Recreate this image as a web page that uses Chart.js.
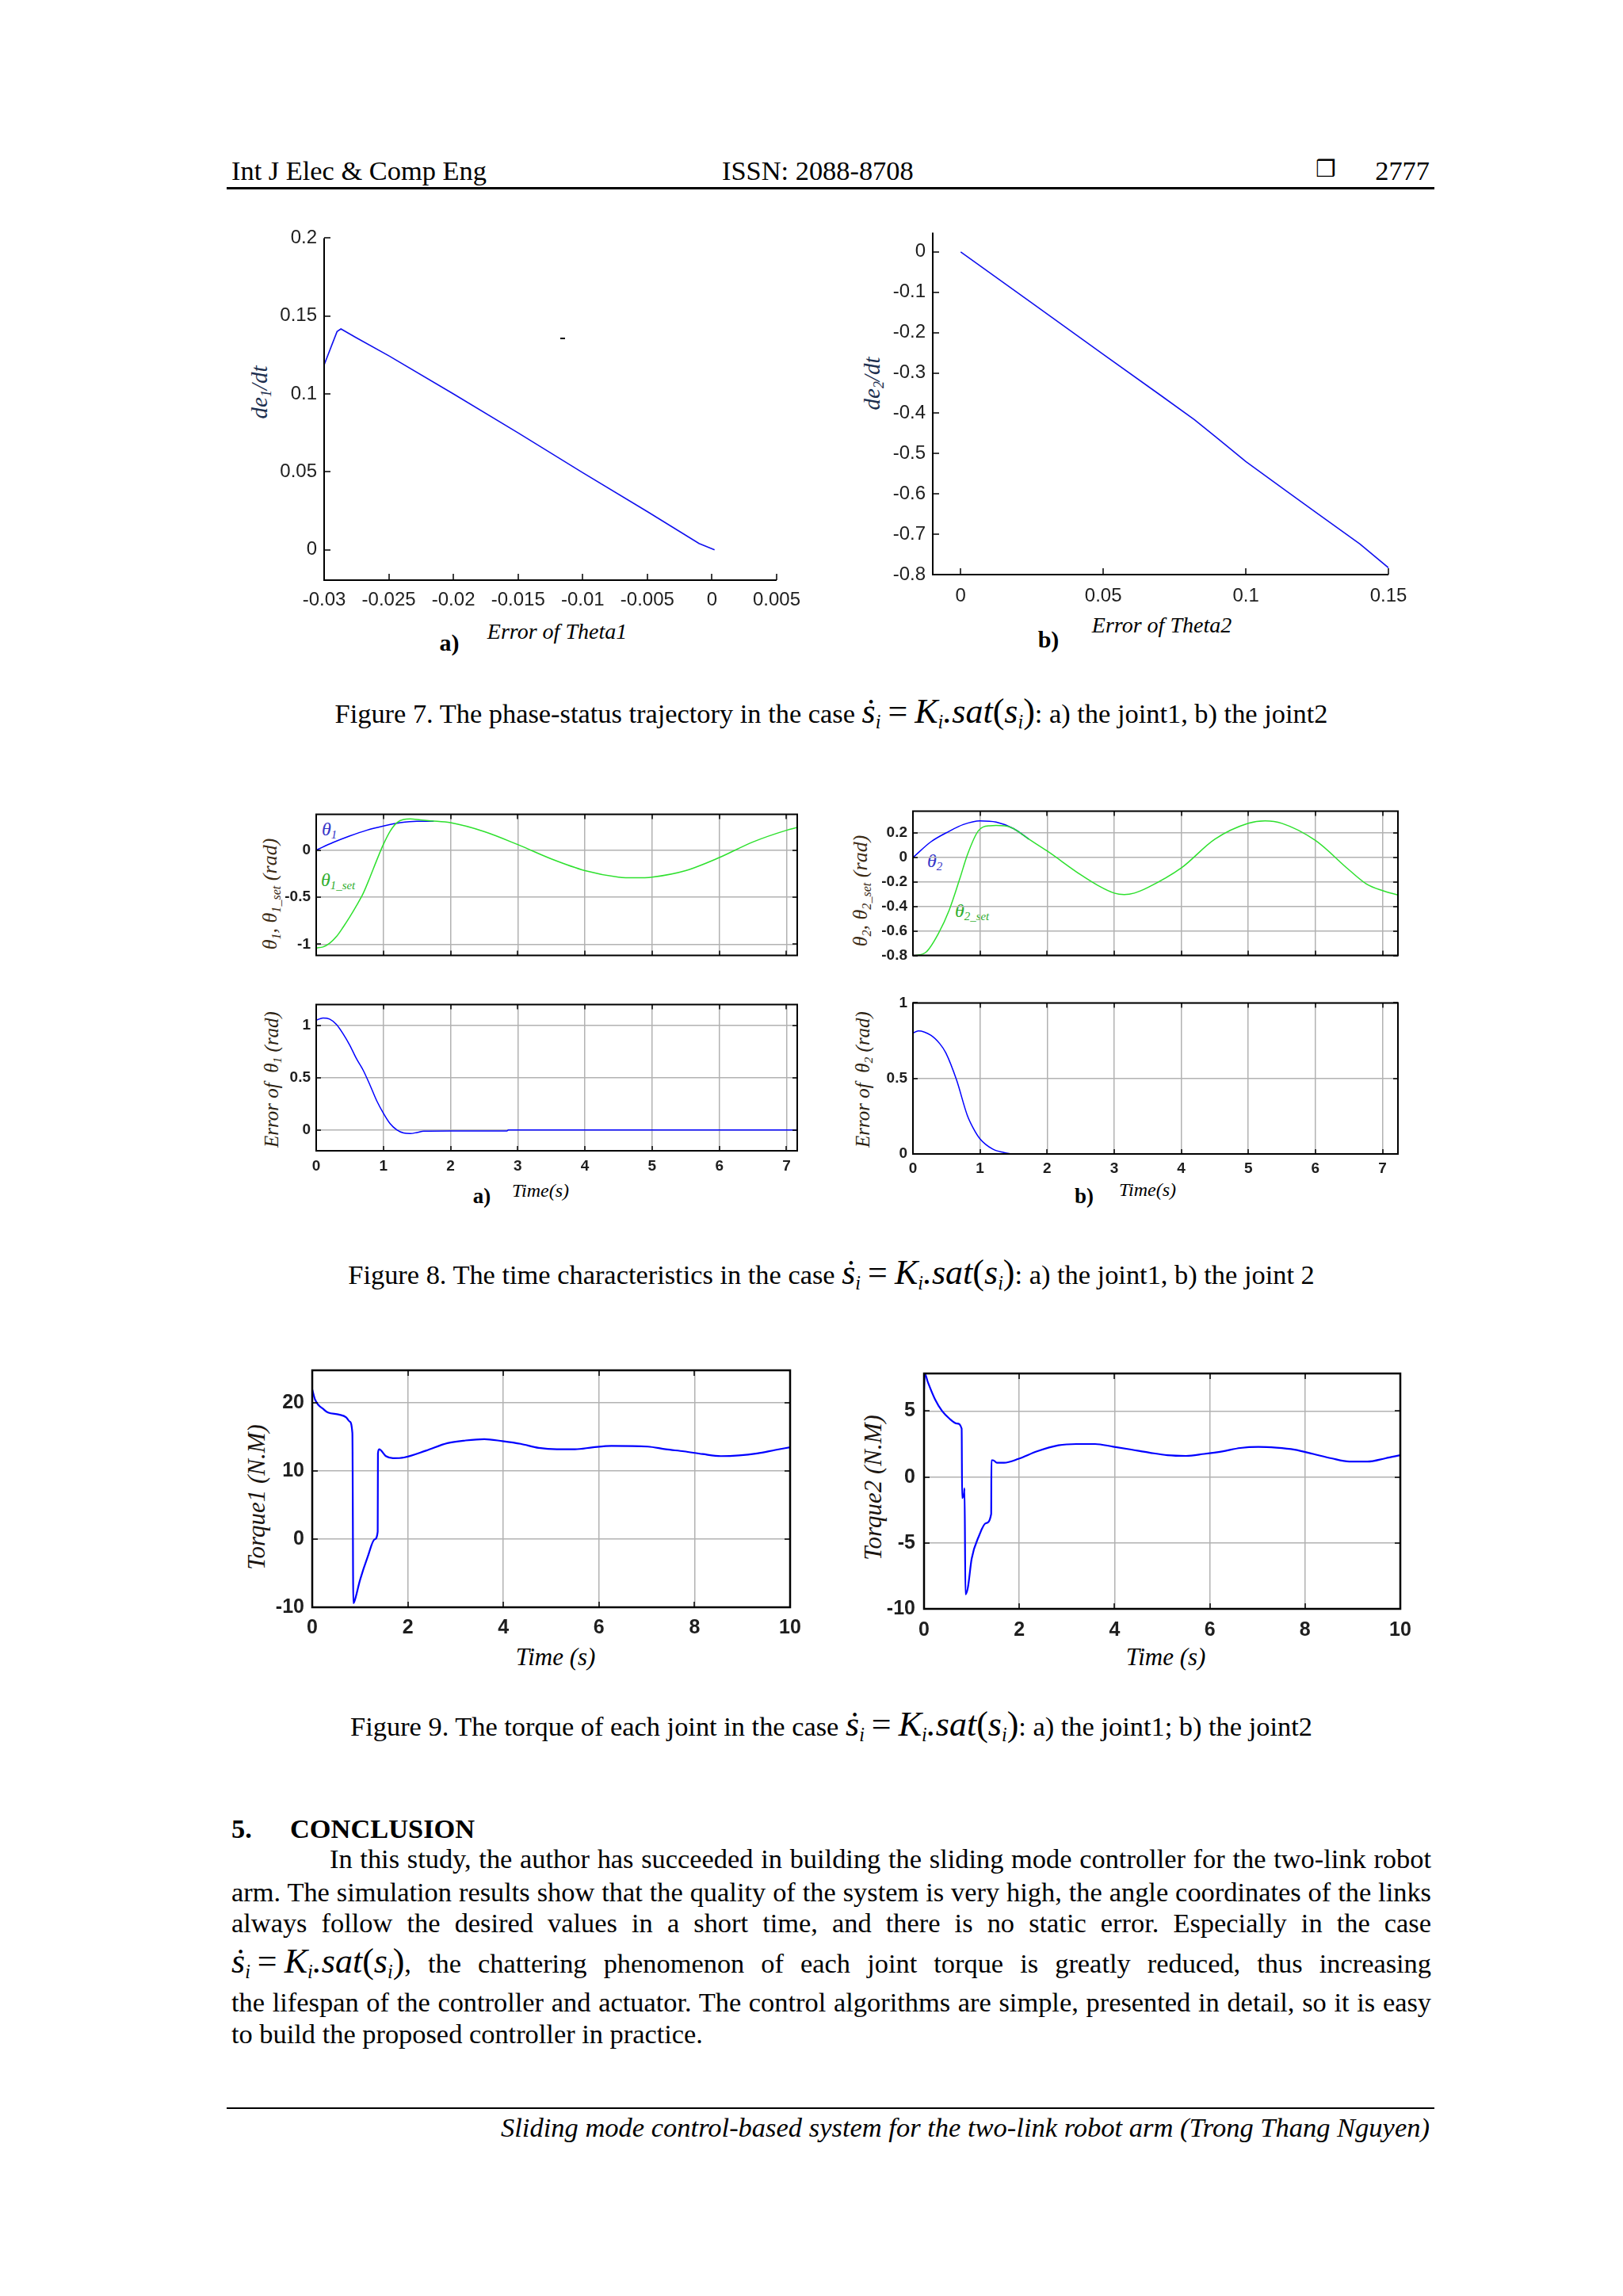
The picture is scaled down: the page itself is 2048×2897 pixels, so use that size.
<!DOCTYPE html>
<html>
<head>
<meta charset="utf-8">
<script src="https://cdn.jsdelivr.net/npm/chart.js@4.4.1/dist/chart.umd.min.js"></script>
<style>
  body { margin: 0; width: 2048px; height: 2897px; background: #fff; position: relative; overflow: hidden;
         font-family: "Liberation Serif", "Times New Roman", serif; color: #000; }
  .t { position: absolute; white-space: nowrap; line-height: 1; font-size: 34.4px; }
  .c { transform: translate(-50%, -50%); }
  .rot { transform: translate(-50%, -50%) rotate(-90deg); }
  .it { font-style: italic; }
  .plot { position: absolute; }
  .rule { position: absolute; background: #000; }
  sub { font-size: 0.62em; vertical-align: -0.28em; line-height: 0; }
  .m { font-size: 44px; font-style: italic; }
  .m sub { font-size: 0.55em; }
  .eq { font-style: normal; margin: 0 9px; }
</style>
</head>
<body>

<!-- en-tête -->
<div class="t" style="left:292px; top:198px;">Int J Elec &amp; Comp Eng</div>
<div class="t" style="left:911px; top:198px;">ISSN: 2088-8708</div>
<div class="t" style="left:1660px; top:199px; font-family:'DejaVu Sans'; font-weight:bold; font-size:29px;">❒</div>
<div class="t" style="right:244px; top:198px;">2777</div>
<div class="rule" style="left:286px; top:236px; width:1524px; height:3px;"></div>

<!-- Figure 7 -->
<div class="t it rot" style="left:327px; top:495px; font-size:29px; color:#1d2f4f;">de<sub>1</sub>/dt</div>
<div class="t it c" style="left:703px; top:797px; font-size:28px;">Error of Theta1</div>
<div class="t c" style="left:567px; top:811px; font-size:30px; font-weight:bold;">a)</div>
<div class="rule" style="left:707px; top:426px; width:6px; height:2px;"></div>
<div class="t it rot" style="left:1100px; top:484px; font-size:29px; color:#1d2f4f;">de<sub>2</sub>/dt</div>
<div class="t it c" style="left:1466px; top:789px; font-size:28px;">Error of Theta2</div>
<div class="t c" style="left:1323px; top:807px; font-size:30px; font-weight:bold;">b)</div>
<div class="t c" style="left:1049px; top:898px;">Figure 7. The phase-status trajectory in the case <span class="m">ṡ<sub>i</sub><span class="eq">=</span>K<sub>i</sub>.sat<span style="font-style:normal">(</span>s<sub>i</sub><span style="font-style:normal">)</span></span>: a) the joint1, b) the joint2</div>

<!-- Figure 8 -->
<div class="t it" style="left:406px; top:1034px; font-size:24px; color:#3535c8;">θ<sub>1</sub></div>
<div class="t it" style="left:405px; top:1098px; font-size:24px; color:#2fae2f;">θ<sub>1_set</sub></div>
<div class="t it rot" style="left:341px; top:1128px; font-size:26px; color:#3b2a14;">θ<sub>1</sub>, θ<sub>1_set</sub> (rad)</div>
<div class="t it rot" style="left:342px; top:1362px; font-size:25px; color:#2a1e10;">Error of&nbsp; θ<sub>1</sub> (rad)</div>
<div class="t it c" style="left:682px; top:1502px; font-size:24px;">Time(s)</div>
<div class="t c" style="left:608px; top:1509px; font-size:27px; font-weight:bold;">a)</div>
<div class="t it" style="left:1170px; top:1074px; font-size:24px; color:#3535c8;">θ<sub>2</sub></div>
<div class="t it" style="left:1205px; top:1137px; font-size:24px; color:#2fae2f;">θ<sub>2_set</sub></div>
<div class="t it rot" style="left:1086px; top:1124px; font-size:26px; color:#3b2a14;">θ<sub>2</sub>, θ<sub>2_set</sub> (rad)</div>
<div class="t it rot" style="left:1088px; top:1362px; font-size:25px; color:#2a1e10;">Error of&nbsp; θ<sub>2</sub> (rad)</div>
<div class="t it c" style="left:1448px; top:1501px; font-size:24px;">Time(s)</div>
<div class="t c" style="left:1368px; top:1509px; font-size:27px; font-weight:bold;">b)</div>
<div class="t c" style="left:1049px; top:1606px;">Figure 8. The time characteristics in the case <span class="m">ṡ<sub>i</sub><span class="eq">=</span>K<sub>i</sub>.sat<span style="font-style:normal">(</span>s<sub>i</sub><span style="font-style:normal">)</span></span>: a) the joint1, b) the joint 2</div>

<!-- Figure 9 -->
<div class="t it rot" style="left:323px; top:1889px; font-size:31px; color:#1a1410;">Torque1 (N.M)</div>
<div class="t it c" style="left:701px; top:2090px; font-size:31px;">Time (s)</div>
<div class="t it rot" style="left:1101px; top:1877px; font-size:31px; color:#1a1410;">Torque2 (N.M)</div>
<div class="t it c" style="left:1471px; top:2090px; font-size:31px;">Time (s)</div>
<div class="t c" style="left:1049px; top:2176px;">Figure 9. The torque of each joint in the case <span class="m">ṡ<sub>i</sub><span class="eq">=</span>K<sub>i</sub>.sat<span style="font-style:normal">(</span>s<sub>i</sub><span style="font-style:normal">)</span></span>: a) the joint1; b) the joint2</div>

<!-- Conclusion -->
<div class="t" style="left:292px; top:2290px; font-weight:bold;">5.</div>
<div class="t" style="left:366px; top:2290px; font-weight:bold;">CONCLUSION</div>
<div class="t just" data-w="1390" style="left:416px; top:2328px;">In this study, the author has succeeded in building the sliding mode controller for the two-link robot</div>
<div class="t just" data-w="1514" style="left:292px; top:2370px;">arm. The simulation results show that the quality of the system is very high, the angle coordinates of the links</div>
<div class="t just" data-w="1514" style="left:292px; top:2409px;">always follow the desired values in a short time, and there is no static error. Especially in the case</div>
<div class="t just" data-w="1514" style="left:292px; top:2453px;"><span class="m">ṡ<sub>i</sub><span class="eq">=</span>K<sub>i</sub>.sat<span style="font-style:normal">(</span>s<sub>i</sub><span style="font-style:normal">)</span></span>, the chattering phenomenon of each joint torque is greatly reduced, thus increasing</div>
<div class="t just" data-w="1514" style="left:292px; top:2509px;">the lifespan of the controller and actuator. The control algorithms are simple, presented in detail, so it is easy</div>
<div class="t" style="left:292px; top:2549px;">to build the proposed controller in practice.</div>

<!-- pied de page -->
<div class="rule" style="left:286px; top:2659px; width:1524px; height:2px;"></div>
<div class="t it" style="right:244px; top:2667px; font-size:34.5px;">Sliding mode control-based system for the two-link robot arm (Trong Thang Nguyen)</div>

<script>
// ---- Figure 7 a) : trajectoire de phase joint 1
const err1 = [-0.03, -0.0294, -0.029, -0.0287, -0.0275, -0.025, -0.02, -0.015, -0.01, -0.005, -0.001, 0.0002];
const derr1 = [0.1186, 0.1315, 0.14, 0.1417, 0.136, 0.1245, 0.1, 0.075, 0.0495, 0.0245, 0.004, 0];
const fig7aXTicks = [-0.03, -0.025, -0.02, -0.015, -0.01, -0.005, 0, 0.005];
const fig7aXLabels = ["-0.03", "-0.025", "-0.02", "-0.015", "-0.01", "-0.005", "0", "0.005"];
const fig7aYTicks = [0, 0.05, 0.1, 0.15, 0.2];
const fig7aYLabels = ["0", "0.05", "0.1", "0.15", "0.2"];

// ---- Figure 7 b) : trajectoire de phase joint 2
const err2 = [0, 0.025, 0.05, 0.07, 0.082, 0.09, 0.1, 0.115, 0.125, 0.14, 0.15];
const derr2 = [0, -0.127, -0.254, -0.355, -0.416, -0.462, -0.52, -0.597, -0.648, -0.724, -0.783];
const fig7bXTicks = [0, 0.05, 0.1, 0.15];
const fig7bXLabels = ["0", "0.05", "0.1", "0.15"];
const fig7bYTicks = [-0.8, -0.7, -0.6, -0.5, -0.4, -0.3, -0.2, -0.1, 0];
const fig7bYLabels = ["-0.8", "-0.7", "-0.6", "-0.5", "-0.4", "-0.3", "-0.2", "-0.1", "0"];

// ---- Figure 8 a) : joint 1
const tTheta1 = [0, 0.25, 0.5, 0.75, 1.0, 1.25, 1.5, 1.75];
const theta1 = [0, 0.08, 0.15, 0.21, 0.255, 0.29, 0.305, 0.305];
const tTheta1Set = [0, 0.1, 0.2, 0.3, 0.4, 0.5, 0.6, 0.7, 0.8, 0.9, 1.0, 1.1, 1.2, 1.3, 1.4, 1.55, 1.7, 2.0, 2.5, 3.0, 3.5, 4.0, 4.5, 4.75, 5.0, 5.5, 6.0, 6.5, 7.0, 7.16];
const theta1Set = [-1.04, -1.03, -0.99, -0.92, -0.82, -0.71, -0.59, -0.46, -0.29, -0.11, 0.06, 0.2, 0.29, 0.325, 0.33, 0.32, 0.31, 0.29, 0.196, 0.058, -0.094, -0.218, -0.287, -0.295, -0.287, -0.218, -0.08, 0.086, 0.21, 0.24];
const tErr1 = [0, 0.1, 0.2, 0.3, 0.4, 0.5, 0.6, 0.7, 0.8, 0.9, 1.0, 1.1, 1.2, 1.3, 1.4, 1.5, 1.6, 2.0, 2.5, 2.84, 2.86, 4.0, 5.0, 6.0, 7.16];
const errTheta1 = [1.05, 1.07, 1.06, 1.01, 0.92, 0.81, 0.68, 0.57, 0.43, 0.28, 0.16, 0.06, 0.0, -0.03, -0.035, -0.025, -0.012, -0.01, -0.01, -0.01, 0, 0, 0, 0, 0];

// ---- Figure 8 b) : joint 2
const tTheta2 = [0, 0.27, 0.54, 0.75, 1.0, 1.24, 1.5, 1.73];
const theta2 = [0, 0.13, 0.215, 0.27, 0.3, 0.29, 0.237, 0.15];
const tTheta2Set = [0, 0.2, 0.38, 0.54, 0.7, 0.81, 0.97, 1.14, 1.24, 1.46, 1.73, 2.0, 2.5, 2.75, 3.0, 3.15, 3.3, 3.5, 4.0, 4.5, 5.0, 5.25, 5.5, 6.0, 6.5, 6.76, 7.0, 7.23];
const theta2Set = [-0.805, -0.77, -0.62, -0.43, -0.17, 0.02, 0.215, 0.26, 0.262, 0.247, 0.15, 0.054, -0.14, -0.225, -0.29, -0.302, -0.29, -0.245, -0.085, 0.15, 0.28, 0.3, 0.28, 0.14, -0.1, -0.215, -0.27, -0.305];
const tErr2 = [0, 0.08, 0.27, 0.4, 0.49, 0.65, 0.81, 0.9, 1.0, 1.19, 1.35, 1.49, 2.0, 4.5, 4.52, 4.9, 4.92, 6.0, 6.02, 6.4, 6.42, 7.23];
const errTheta2 = [0.8, 0.815, 0.785, 0.73, 0.67, 0.49, 0.256, 0.17, 0.1, 0.032, 0.01, 0, 0, 0, -0.004, -0.004, 0, 0, -0.004, -0.004, 0, 0];

const timeTicks = [0, 1, 2, 3, 4, 5, 6, 7];
const timeLabels = ["0", "1", "2", "3", "4", "5", "6", "7"];
const th1YTicks = [-1, -0.5, 0];
const th1YLabels = ["-1", "-0.5", "0"];
const e1YTicks = [0, 0.5, 1];
const e1YLabels = ["0", "0.5", "1"];
const th2YTicks = [-0.8, -0.6, -0.4, -0.2, 0, 0.2];
const th2YLabels = ["-0.8", "-0.6", "-0.4", "-0.2", "0", "0.2"];
const e2YTicks = [0, 0.5, 1];
const e2YLabels = ["0", "0.5", "1"];

// ---- Figure 9 : couples
const tTorque1 = [0, 0.06, 0.25, 0.33, 0.56, 0.71, 0.78, 0.84, 0.86, 0.88, 1.0, 1.16, 1.31, 1.37, 1.375, 1.4, 1.54, 1.69, 1.92, 2.38, 2.83, 3.21, 3.6, 3.98, 4.36, 4.74, 5.12, 5.5, 5.88, 6.26, 7.02, 7.4, 7.78, 8.17, 8.55, 8.93, 9.31, 9.69, 10];
const torque1 = [22.0, 20.5, 19.0, 18.6, 18.3, 17.9, 17.3, 15.6, -9.4, -9.2, -6.0, -2.6, 0, 1.1, 12.6, 13.2, 12.2, 11.9, 12.0, 13.0, 14.1, 14.5, 14.7, 14.4, 14.0, 13.4, 13.2, 13.2, 13.5, 13.7, 13.6, 13.2, 12.9, 12.5, 12.2, 12.3, 12.6, 13.1, 13.5];
const tTorque2 = [0, 0.015, 0.08, 0.23, 0.38, 0.53, 0.69, 0.79, 0.8, 0.84, 0.85, 0.87, 0.92, 1.0, 1.15, 1.3, 1.41, 1.415, 1.45, 1.53, 1.68, 1.98, 2.37, 2.82, 3.2, 3.59, 3.97, 4.35, 4.73, 5.11, 5.5, 5.88, 6.26, 6.64, 7.02, 7.4, 7.78, 8.17, 8.55, 8.93, 9.31, 9.69, 10];
const torque2 = [6.65, 7.85, 7.2, 5.9, 5.0, 4.44, 4.06, 3.67, -1.6, -1.2, -0.85, -8.9, -8.4, -6.2, -4.5, -3.5, -2.8, 1.27, 1.27, 1.08, 1.08, 1.37, 1.94, 2.4, 2.5, 2.5, 2.3, 2.08, 1.85, 1.65, 1.6, 1.75, 1.94, 2.2, 2.28, 2.22, 2.07, 1.75, 1.42, 1.17, 1.17, 1.42, 1.65];
const torqueXTicks = [0, 2, 4, 6, 8, 10];
const torqueXLabels = ["0", "2", "4", "6", "8", "10"];
const torque1YTicks = [-10, 0, 10, 20];
const torque1YLabels = ["-10", "0", "10", "20"];
const torque2YTicks = [-10, -5, 0, 5];
const torque2YLabels = ["-10", "-5", "0", "5"];

// couleurs
const BLUE = "#0000ff";
const GREEN = "#2ee02e";
const GRID = "#b2b2b2";

function zip(xs, ys) {
    return xs.map((x, i) => ({ x: x, y: ys[i] }));
}

// cadre + graduations vers l'intérieur (style MATLAB)
const framePlugin = {
    id: "frame",
    afterDraw(chart, args, opts) {
        const { ctx, chartArea: a, scales } = chart;
        ctx.save();
        ctx.strokeStyle = opts.color || "#000";
        ctx.lineWidth = opts.width || 2;
        ctx.beginPath();
        if (opts.box) {
            ctx.rect(a.left, a.top, a.right - a.left, a.bottom - a.top);
        } else {
            ctx.moveTo(a.left, a.top);
            ctx.lineTo(a.left, a.bottom);
            ctx.lineTo(a.right, a.bottom);
        }
        ctx.stroke();
        const len = opts.tick || 0;
        if (len) {
            ctx.lineWidth = opts.tickWidth || 1.5;
            ctx.beginPath();
            scales.x.ticks.forEach(t => {
                const px = Math.round(scales.x.getPixelForValue(t.value));
                ctx.moveTo(px, a.bottom); ctx.lineTo(px, a.bottom - len);
                if (opts.box) { ctx.moveTo(px, a.top); ctx.lineTo(px, a.top + len); }
            });
            scales.y.ticks.forEach(t => {
                const py = Math.round(scales.y.getPixelForValue(t.value));
                ctx.moveTo(a.left, py); ctx.lineTo(a.left + len, py);
                if (opts.box) { ctx.moveTo(a.right, py); ctx.lineTo(a.right - len, py); }
            });
            ctx.stroke();
        }
        ctx.restore();
    }
};

function axis(a, size, horiz, font, grid) {
    return {
        type: "linear",
        position: horiz ? "bottom" : "left",
        min: a.min,
        max: a.max,
        afterFit: s => { if (horiz) s.height = size; else s.width = size; },
        afterBuildTicks: s => { s.ticks = a.ticks.map(v => ({ value: v })); },
        ticks: {
            display: !!a.labels,
            autoSkip: false,
            maxRotation: 0,
            padding: a.padding,
            font: font,
            color: "#1e1e1e",
            callback: (v, i) => (a.labels ? a.labels[i] : "")
        },
        grid: { display: !!grid, color: grid || "#000", lineWidth: 1.5, drawTicks: false },
        border: { display: false }
    };
}

// un graphique placé exactement sur la zone de tracé (box)
function plot(o) {
    const pad = Object.assign({ yw: 80, xh: 50, tp: 16, rp: 40 }, o.pad || {});
    const L = Math.round(o.box.l), T = Math.round(o.box.t);
    const w = Math.round(o.box.r) - L, h = Math.round(o.box.b) - T;
    const holder = document.createElement("div");
    holder.className = "plot";
    holder.style.left = (L - pad.yw) + "px";
    holder.style.top = (T - pad.tp) + "px";
    const cv = document.createElement("canvas");
    cv.width = w + pad.yw + pad.rp;
    cv.height = h + pad.tp + pad.xh;
    cv.style.width = cv.width + "px";
    cv.style.height = cv.height + "px";
    holder.appendChild(cv);
    document.body.appendChild(holder);

    return new Chart(cv, {
        type: "scatter",
        data: {
            datasets: o.series.map(s => ({
                data: zip(s.x, s.y),
                showLine: true,
                borderColor: s.color,
                borderWidth: s.width || 1.5,
                pointRadius: 0,
                tension: 0,
                cubicInterpolationMode: s.smooth ? "monotone" : "default",
                fill: false
            }))
        },
        options: {
            responsive: false,
            animation: false,
            devicePixelRatio: 1,
            layout: { padding: { left: 0, top: pad.tp, right: pad.rp, bottom: 0 } },
            plugins: { legend: { display: false }, tooltip: { enabled: false }, frame: o.frame },
            scales: {
                x: axis(o.x, pad.xh, true, o.font, o.grid),
                y: axis(o.y, pad.yw, false, o.font, o.grid)
            }
        },
        plugins: [framePlugin]
    });
}

const fontFig7 = { family: "Liberation Sans", size: 24 };
const fontFig8 = { family: "Liberation Sans", size: 19, weight: "bold" };
const fontFig9 = { family: "Liberation Sans", size: 25, weight: "bold" };

// Figure 7 a)
plot({
    box: { l: 409, t: 293, r: 981, b: 732 },
    series: [{ x: err1, y: derr1, color: "#1010ee", width: 1.6 }],
    x: { min: -0.03, max: 0.005, ticks: fig7aXTicks, labels: fig7aXLabels, padding: 11 },
    y: { min: -0.0195, max: 0.2, ticks: fig7aYTicks, labels: fig7aYLabels, padding: 9 },
    font: fontFig7,
    frame: { box: false, tick: 8, width: 2 }
});

// Figure 7 b)
plot({
    box: { l: 1177, t: 286, r: 1752, b: 725 },
    series: [{ x: err2, y: derr2, color: "#1010ee", width: 1.6 }],
    x: { min: -0.0098, max: 0.15, ticks: fig7bXTicks, labels: fig7bXLabels, padding: 13 },
    y: { min: -0.8, max: 0.048, ticks: fig7bYTicks, labels: fig7bYLabels, padding: 9 },
    font: fontFig7,
    frame: { box: false, tick: 8, width: 2 }
});

// Figure 8 a) haut
plot({
    box: { l: 399, t: 1025, r: 1006, b: 1214 },
    pad: { xh: 10 },
    series: [
        { x: tTheta1Set, y: theta1Set, color: GREEN, smooth: true },
        { x: tTheta1, y: theta1, color: BLUE, smooth: true }
    ],
    x: { min: 0, max: 7.16, ticks: timeTicks, labels: null, padding: 8 },
    y: { min: -1.12, max: 0.38, ticks: th1YTicks, labels: th1YLabels, padding: 7 },
    font: fontFig8, grid: GRID,
    frame: { box: true, tick: 6, width: 2 }
});

// Figure 8 a) bas
plot({
    box: { l: 399, t: 1265, r: 1006, b: 1452 },
    series: [{ x: tErr1, y: errTheta1, color: BLUE, smooth: true }],
    x: { min: 0, max: 7.16, ticks: timeTicks, labels: timeLabels, padding: 8 },
    y: { min: -0.2, max: 1.2, ticks: e1YTicks, labels: e1YLabels, padding: 7 },
    font: fontFig8, grid: GRID,
    frame: { box: true, tick: 6, width: 2 }
});

// Figure 8 b) haut
plot({
    box: { l: 1152, t: 1021, r: 1764, b: 1214 },
    pad: { xh: 10 },
    series: [
        { x: tTheta2Set, y: theta2Set, color: GREEN, smooth: true },
        { x: tTheta2, y: theta2, color: BLUE, smooth: true }
    ],
    x: { min: 0, max: 7.23, ticks: timeTicks, labels: null, padding: 8 },
    y: { min: -0.8, max: 0.38, ticks: th2YTicks, labels: th2YLabels, padding: 7 },
    font: fontFig8, grid: GRID,
    frame: { box: true, tick: 6, width: 2 }
});

// Figure 8 b) bas
plot({
    box: { l: 1152, t: 1263, r: 1764, b: 1456 },
    series: [{ x: tErr2, y: errTheta2, color: BLUE, smooth: true }],
    x: { min: 0, max: 7.23, ticks: timeTicks, labels: timeLabels, padding: 7 },
    y: { min: 0, max: 1, ticks: e2YTicks, labels: e2YLabels, padding: 7 },
    font: fontFig8, grid: GRID,
    frame: { box: true, tick: 6, width: 2 }
});

// Figure 9 a)
plot({
    box: { l: 394, t: 1720, r: 997, b: 2028 },
    series: [{ x: tTorque1, y: torque1, color: BLUE, width: 2.2, smooth: true }],
    x: { min: 0, max: 10, ticks: torqueXTicks, labels: torqueXLabels, padding: 11 },
    y: { min: -10, max: 24.8, ticks: torque1YTicks, labels: torque1YLabels, padding: 10 },
    font: fontFig9, grid: GRID,
    frame: { box: true, tick: 7, width: 2.5 }
});

// Figure 9 b)
plot({
    box: { l: 1166, t: 1723, r: 1767, b: 2030 },
    series: [{ x: tTorque2, y: torque2, color: BLUE, width: 2.2, smooth: true }],
    x: { min: 0, max: 10, ticks: torqueXTicks, labels: torqueXLabels, padding: 12 },
    y: { min: -10, max: 7.85, ticks: torque2YTicks, labels: torque2YLabels, padding: 11 },
    font: fontFig9, grid: GRID,
    frame: { box: true, tick: 7, width: 2.5 }
});

// justification ligne par ligne du paragraphe
document.querySelectorAll(".just").forEach(el => {
    const target = parseFloat(el.dataset.w);
    el.style.wordSpacing = "0px";
    const natural = el.getBoundingClientRect().width;
    const spaces = (el.textContent.match(/ /g) || []).length;
    if (spaces) el.style.wordSpacing = ((target - natural) / spaces) + "px";
});
</script>
</body>
</html>
